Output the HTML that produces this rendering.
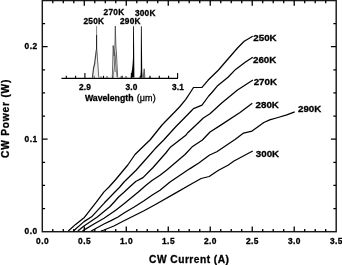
<!DOCTYPE html>
<html lang="en"><head><meta charset="utf-8"><title>CW Power vs CW Current</title>
<style>html,body{margin:0;padding:0;background:#fff;}body{width:342px;height:265px;overflow:hidden;}svg{display:block;}text{font-family:"Liberation Sans",Arial,Helvetica,sans-serif;font-weight:bold;fill:#000;}</style>
</head><body>
<svg width="342" height="265" viewBox="0 0 342 265">
<rect width="342" height="265" fill="#fff"/>
<rect x="42.3" y="0.55" width="293.90" height="231.15" fill="none" stroke="#1a1a1a" stroke-width="1.45"/>
<path d="M52.80 231.7v-2.8 M52.80 0.4v2.8 M63.29 231.7v-2.8 M63.29 0.4v2.8 M73.79 231.7v-2.8 M73.79 0.4v2.8 M84.29 231.7v-5.3 M84.29 0.4v5.3 M94.78 231.7v-2.8 M94.78 0.4v2.8 M105.28 231.7v-2.8 M105.28 0.4v2.8 M115.77 231.7v-2.8 M115.77 0.4v2.8 M126.27 231.7v-5.3 M126.27 0.4v5.3 M136.77 231.7v-2.8 M136.77 0.4v2.8 M147.26 231.7v-2.8 M147.26 0.4v2.8 M157.76 231.7v-2.8 M157.76 0.4v2.8 M168.26 231.7v-5.3 M168.26 0.4v5.3 M178.75 231.7v-2.8 M178.75 0.4v2.8 M189.25 231.7v-2.8 M189.25 0.4v2.8 M199.75 231.7v-2.8 M199.75 0.4v2.8 M210.24 231.7v-5.3 M210.24 0.4v5.3 M220.74 231.7v-2.8 M220.74 0.4v2.8 M231.24 231.7v-2.8 M231.24 0.4v2.8 M241.73 231.7v-2.8 M241.73 0.4v2.8 M252.23 231.7v-5.3 M252.23 0.4v5.3 M262.72 231.7v-2.8 M262.72 0.4v2.8 M273.22 231.7v-2.8 M273.22 0.4v2.8 M283.72 231.7v-2.8 M283.72 0.4v2.8 M294.21 231.7v-5.3 M294.21 0.4v5.3 M304.71 231.7v-2.8 M304.71 0.4v2.8 M315.21 231.7v-2.8 M315.21 0.4v2.8 M325.70 231.7v-2.8 M325.70 0.4v2.8 M42.3 208.57h2.8 M336.2 208.57h-2.8 M42.3 185.44h2.8 M336.2 185.44h-2.8 M42.3 162.31h2.8 M336.2 162.31h-2.8 M42.3 139.18h5.3 M336.2 139.18h-5.3 M42.3 116.05h2.8 M336.2 116.05h-2.8 M42.3 92.92h2.8 M336.2 92.92h-2.8 M42.3 69.79h2.8 M336.2 69.79h-2.8 M42.3 46.66h5.3 M336.2 46.66h-5.3 M42.3 23.53h2.8 M336.2 23.53h-2.8" fill="none" stroke="#000" stroke-width="1.3"/>
<path d="M68.3 231.0 L75.6 224.4 L84.4 217.4 L96.3 202.2 L104.0 191.9 L109.0 187.0 L115.3 180.0 L123.6 170.0 L127.8 165.0 L135.0 154.5 L145.0 144.8 L150.0 140.0 L162.0 125.0 L174.7 112.0 L179.5 107.0 L185.6 99.6 L190.3 92.5 L193.5 87.5 L202.0 87.3 L208.0 80.3 L210.3 78.0 L218.5 70.0 L224.5 63.0 L231.0 55.5 L237.5 48.0 L244.2 41.2 L252.7 36.2" fill="none" stroke="#000" stroke-width="1.25" stroke-linejoin="round"/>
<path d="M73.4 231.0 L84.0 221.6 L91.6 216.8 L104.0 203.4 L105.2 202.0 L119.8 187.0 L124.0 182.0 L126.1 180.0 L136.3 170.0 L149.6 155.0 L155.0 148.8 L163.7 140.0 L175.5 127.0 L191.2 111.0 L193.5 108.6 L202.0 105.1 L208.7 96.0 L211.5 93.0 L217.9 85.4 L228.0 77.3 L235.6 69.4 L245.5 62.0 L252.8 57.2" fill="none" stroke="#000" stroke-width="1.25" stroke-linejoin="round"/>
<path d="M77.8 231.0 L84.0 226.0 L97.3 217.0 L104.0 211.6 L109.8 206.7 L114.2 202.0 L118.6 197.0 L124.0 192.3 L129.6 187.0 L135.7 181.5 L143.0 177.6 L150.5 170.0 L152.6 168.0 L165.8 153.0 L170.0 147.6 L185.8 135.3 L187.5 133.0 L195.0 126.0 L203.3 118.0 L210.0 113.8 L221.7 103.0 L237.5 90.0 L253.0 80.0" fill="none" stroke="#000" stroke-width="1.25" stroke-linejoin="round"/>
<path d="M82.5 231.0 L84.6 229.6 L94.0 224.0 L104.0 218.2 L105.8 217.0 L115.7 210.2 L124.0 203.8 L138.3 192.0 L146.3 185.0 L152.0 180.5 L160.0 175.2 L166.8 170.0 L185.0 154.5 L192.6 146.4 L202.4 140.0 L210.0 132.0 L220.0 125.6 L240.0 112.6 L252.3 103.3" fill="none" stroke="#000" stroke-width="1.25" stroke-linejoin="round"/>
<path d="M91.0 231.2 L93.0 230.0 L104.0 224.0 L111.0 220.6 L118.0 217.0 L124.0 213.0 L134.2 207.0 L144.0 200.7 L152.3 195.0 L160.0 190.2 L170.0 182.0 L190.0 168.6 L198.8 163.0 L209.6 155.0 L216.8 151.7 L235.0 139.6 L243.6 133.1 L252.0 131.1 L258.0 126.8 L263.8 122.5 L269.7 119.9 L278.0 117.5 L286.8 114.9 L294.7 111.8" fill="none" stroke="#000" stroke-width="1.25" stroke-linejoin="round"/>
<path d="M101.0 231.0 L104.0 230.0 L113.9 226.0 L124.0 220.8 L144.0 210.7 L155.0 204.7 L175.0 193.4 L190.0 184.7 L201.1 178.5 L209.2 176.5 L218.5 170.2 L228.0 165.2 L234.0 161.0 L252.7 151.0" fill="none" stroke="#000" stroke-width="1.25" stroke-linejoin="round"/>
<text transform="translate(42.30 243.90) scale(0.25)" font-size="33.6" text-anchor="middle" textLength="50.4" lengthAdjust="spacing" stroke="#000" stroke-width="1.20">0.0</text>
<text transform="translate(84.29 243.90) scale(0.25)" font-size="33.6" text-anchor="middle" textLength="50.4" lengthAdjust="spacing" stroke="#000" stroke-width="1.20">0.5</text>
<text transform="translate(126.27 243.90) scale(0.25)" font-size="33.6" text-anchor="middle" textLength="50.4" lengthAdjust="spacing" stroke="#000" stroke-width="1.20">1.0</text>
<text transform="translate(168.26 243.90) scale(0.25)" font-size="33.6" text-anchor="middle" textLength="50.4" lengthAdjust="spacing" stroke="#000" stroke-width="1.20">1.5</text>
<text transform="translate(210.24 243.90) scale(0.25)" font-size="33.6" text-anchor="middle" textLength="50.4" lengthAdjust="spacing" stroke="#000" stroke-width="1.20">2.0</text>
<text transform="translate(252.23 243.90) scale(0.25)" font-size="33.6" text-anchor="middle" textLength="50.4" lengthAdjust="spacing" stroke="#000" stroke-width="1.20">2.5</text>
<text transform="translate(294.21 243.90) scale(0.25)" font-size="33.6" text-anchor="middle" textLength="50.4" lengthAdjust="spacing" stroke="#000" stroke-width="1.20">3.0</text>
<text transform="translate(336.20 243.90) scale(0.25)" font-size="33.6" text-anchor="middle" textLength="50.4" lengthAdjust="spacing" stroke="#000" stroke-width="1.20">3.5</text>
<text transform="translate(37.20 234.15) scale(0.25)" font-size="33.6" text-anchor="end" textLength="50.8" lengthAdjust="spacing" stroke="#000" stroke-width="1.20">0.0</text>
<text transform="translate(37.20 141.63) scale(0.25)" font-size="33.6" text-anchor="end" textLength="50.8" lengthAdjust="spacing" stroke="#000" stroke-width="1.20">0.1</text>
<text transform="translate(37.20 49.11) scale(0.25)" font-size="33.6" text-anchor="end" textLength="50.8" lengthAdjust="spacing" stroke="#000" stroke-width="1.20">0.2</text>
<text transform="translate(149.10 262.50) scale(0.25)" font-size="40.8" textLength="319.6" lengthAdjust="spacing" stroke="#000" stroke-width="1.20">CW Current (A)</text>
<text transform="translate(9.30 157.90) rotate(-90) scale(0.25)" font-size="40.8" textLength="313.2" lengthAdjust="spacing" stroke="#000" stroke-width="1.20">CW Power (W)</text>
<text transform="translate(253.30 41.00) scale(0.25)" font-size="39.6" textLength="93.2" lengthAdjust="spacingAndGlyphs" stroke="#000" stroke-width="1.20">250K</text>
<text transform="translate(253.00 62.70) scale(0.25)" font-size="39.6" textLength="93.2" lengthAdjust="spacingAndGlyphs" stroke="#000" stroke-width="1.20">260K</text>
<text transform="translate(253.70 85.00) scale(0.25)" font-size="39.6" textLength="93.2" lengthAdjust="spacingAndGlyphs" stroke="#000" stroke-width="1.20">270K</text>
<text transform="translate(255.60 108.00) scale(0.25)" font-size="39.6" textLength="93.2" lengthAdjust="spacingAndGlyphs" stroke="#000" stroke-width="1.20">280K</text>
<text transform="translate(298.00 112.20) scale(0.25)" font-size="39.6" textLength="93.2" lengthAdjust="spacingAndGlyphs" stroke="#000" stroke-width="1.20">290K</text>
<text transform="translate(255.80 156.60) scale(0.25)" font-size="39.6" textLength="93.2" lengthAdjust="spacingAndGlyphs" stroke="#000" stroke-width="1.20">300K</text>
<path d="M61.5 78.3H178.0" stroke="#000" stroke-width="1.2" fill="none"/>
<path d="M66.30 78.3v-2.6 M75.60 78.3v-2.6 M84.90 78.3v-5.3 M94.20 78.3v-2.6 M103.50 78.3v-2.6 M112.80 78.3v-2.6 M122.10 78.3v-2.6 M131.40 78.3v-5.3 M140.70 78.3v-2.6 M150.00 78.3v-2.6 M159.30 78.3v-2.6 M168.60 78.3v-2.6 M177.60 78.3v-5.3" stroke="#000" stroke-width="1.1" fill="none"/>
<text transform="translate(84.90 90.20) scale(0.25)" font-size="33.2" text-anchor="middle" textLength="48.0" lengthAdjust="spacing" stroke="#000" stroke-width="1.20">2.9</text>
<text transform="translate(131.40 90.20) scale(0.25)" font-size="33.2" text-anchor="middle" textLength="48.0" lengthAdjust="spacing" stroke="#000" stroke-width="1.20">3.0</text>
<text transform="translate(177.90 90.20) scale(0.25)" font-size="33.2" text-anchor="middle" textLength="48.0" lengthAdjust="spacing" stroke="#000" stroke-width="1.20">3.1</text>
<text transform="translate(84.90 101.30) scale(0.25)" font-size="35.6" textLength="194.4" lengthAdjust="spacingAndGlyphs" stroke="#000" stroke-width="1.20">Wavelength</text>
<text transform="translate(136.70 101.30) scale(0.25)" font-size="36.0" textLength="76.0" lengthAdjust="spacing" style="font-weight:normal" stroke="#000" stroke-width="1.20">(μm)</text>
<text transform="translate(83.50 23.80) scale(0.25)" font-size="33.2" textLength="82.4" lengthAdjust="spacing" stroke="#000" stroke-width="1.20">250K</text>
<text transform="translate(103.60 15.10) scale(0.25)" font-size="33.2" textLength="82.4" lengthAdjust="spacing" stroke="#000" stroke-width="1.20">270K</text>
<text transform="translate(120.00 24.20) scale(0.25)" font-size="33.2" textLength="82.4" lengthAdjust="spacing" stroke="#000" stroke-width="1.20">290K</text>
<text transform="translate(134.90 16.40) scale(0.25)" font-size="33.2" textLength="82.4" lengthAdjust="spacing" stroke="#000" stroke-width="1.20">300K</text>
<path d="M92.4 77.6L93.6 68L94.6 64L96.3 50L96.6 26.2L96.9 50L98.8 77.6" fill="#ddd" fill-opacity="0.5" stroke="none"/>
<path d="M92.4 77.6L93.6 68L94.6 64L96.3 50" fill="none" stroke="#444" stroke-width="1.2" stroke-linejoin="round"/>
<path d="M98.8 77.6L96.9 50" fill="none" stroke="#444" stroke-width="0.8"/>
<path d="M96.6 26.2V51" stroke="#777" stroke-width="0.9" fill="none"/>
<path d="M96.6 35V50" stroke="#111" stroke-width="0.9" fill="none"/>
<path d="M112.3 77.6L113.2 45.5L114.3 56L114.95 46L115.3 26L115.9 46L116.6 56L117.7 77.6" fill="#ddd" fill-opacity="0.5" stroke="#444" stroke-width="0.8" stroke-linejoin="round"/>
<path d="M113 77L116.4 52M117 77L114.4 52M113.2 46L115.2 72" stroke="#555" stroke-width="0.7" fill="none"/>
<path d="M133.1 26.2L133.9 26.2L134.4 77.6L130.6 77.6L131.4 73L132.1 69L132.6 64L133 58Z" fill="#000" stroke="none"/>
<path d="M140.9 26.2L141.7 26.2L142.2 70L142.6 77.6L140.3 77.6L140.8 70Z" fill="#000" stroke="none"/>
<path d="M143.2 77.6L144.2 68.8L144.9 77.6Z" fill="#999" stroke="#333" stroke-width="0.7"/>
<path d="M100 77.8l1-1.2 1 1.2m4 0l1-1.5 1 1.5m12 0l1-1.2 1 1.2m3 0l1-1.6 1 1.6m12 0l1-1.4 1 1.4m8 0l1-1 1 1" fill="none" stroke="#222" stroke-width="0.7"/>
</svg>
</body></html>
